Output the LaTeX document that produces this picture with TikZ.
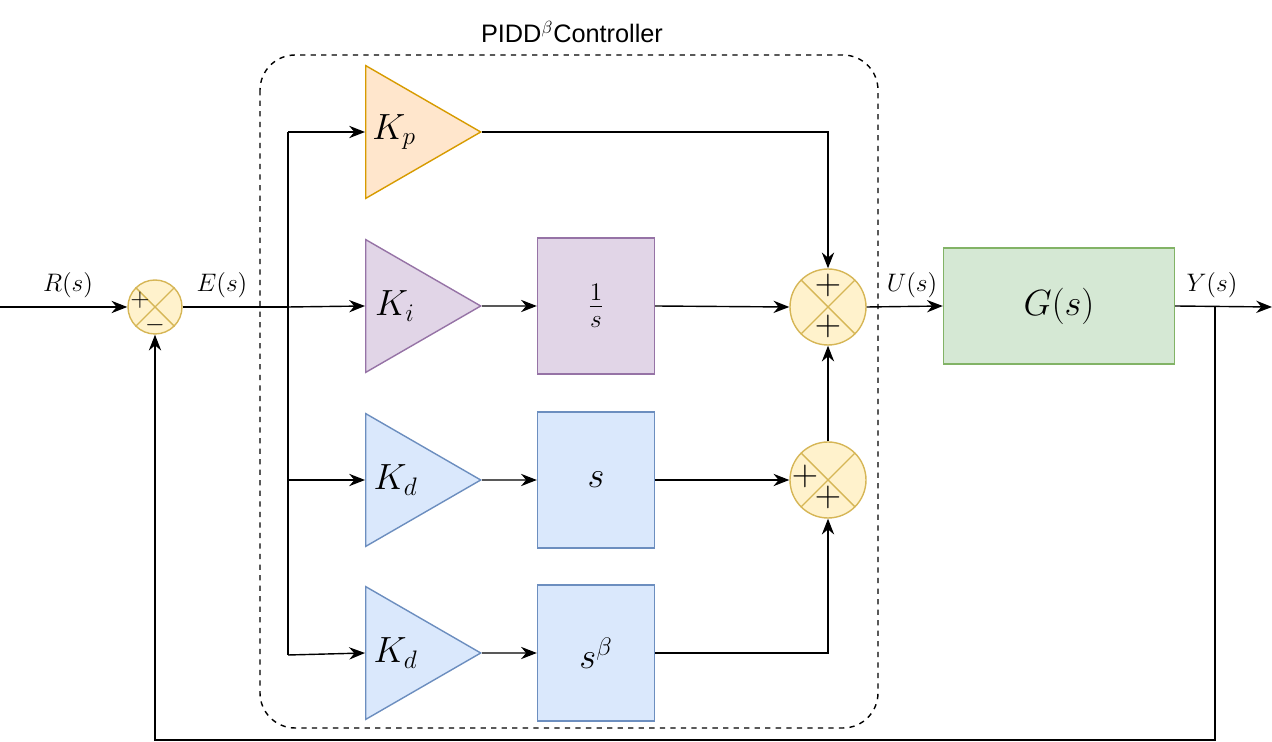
\documentclass[tikz,border=0pt]{standalone}
\usepackage{fontspec}
\newfontfamily\sansf{Liberation Sans}
\usetikzlibrary{shapes.geometric,arrows.meta}
\definecolor{orf}{HTML}{FFE6CC}\definecolor{ord}{HTML}{D79B00}
\definecolor{puf}{HTML}{E1D5E7}\definecolor{pud}{HTML}{9673A6}
\definecolor{blf}{HTML}{DAE8FC}\definecolor{bld}{HTML}{6C8EBF}
\definecolor{grf}{HTML}{D5E8D4}\definecolor{grd}{HTML}{82B366}
\definecolor{yef}{HTML}{FFF2CC}\definecolor{yed}{HTML}{D6B656}
\begin{document}
\begin{tikzpicture}[x=0.02cm,y=-0.02cm,
 >={Stealth[length=9pt,width=7pt]}, line width=0.8pt,
 tri/.style={isosceles triangle,isosceles triangle apex angle=60,minimum height=115*0.02cm,inner sep=0pt,line width=0.8pt,font=\huge,anchor=west},
 blk/.style={rectangle,minimum width=117*0.02cm,minimum height=136*0.02cm,line width=0.8pt,font=\huge},
 sumc/.style={circle,draw=yed,fill=yef,line width=0.8pt,inner sep=0pt}]
\useasboundingbox (0,0) rectangle (1272,742);
\draw[dashed,rounded corners=20] (260,55) rectangle (878,728);
\node[font=\sansf\Large] (title) at (572,32) {PIDD$^{\beta}$Controller};
% sums
\node[sumc,minimum size=54*0.02cm] (s1) at (155,307) {};
\node[sumc,minimum size=76*0.02cm] (s2) at (828,307) {};
\node[sumc,minimum size=76*0.02cm] (s3) at (828,480) {};
\foreach \s in {s1,s2,s3}{\draw[yed] (\s.north west)--(\s.south east) (\s.north east)--(\s.south west);}
\node[font=\Large] at (140,300) {$+$};\node[font=\Large] at (155,325) {$-$};
\node[font=\huge] at (828,285) {$+$};\node[font=\huge] at (828,326) {$+$};
\node[font=\huge] at (805,476) {$+$};\node[font=\huge] at (828,497) {$+$};
% triangles
\node[tri,draw=ord,fill=orf] (kp) at (365,132) {\hspace*{-6pt}$K_p$};
\node[tri,draw=pud,fill=puf] (ki) at (365,306) {\hspace*{-6pt}$K_i$};
\node[tri,draw=bld,fill=blf] (kd1) at (365,480) {\hspace*{-6pt}$K_d$};
\node[tri,draw=bld,fill=blf] (kd2) at (365,653) {\hspace*{-6pt}$K_d$};
% blocks
\node[blk,draw=pud,fill=puf] (int) at (596,306) {$\frac{1}{s}$};
\node[blk,draw=bld,fill=blf] (der) at (596,480) {$s$};
\node[blk,draw=bld,fill=blf] (fd) at (596,653) {$s^{\beta}$};
\node[rectangle,draw=grd,fill=grf,minimum width=231*0.02cm,minimum height=116*0.02cm,font=\huge,line width=0.8pt] (G) at (1059,306) {$G(s)$};
% coordinates
\coordinate (in) at (0,307);
\coordinate (b1) at (288,132);\coordinate (b2) at (288,307);
\coordinate (b3) at (288,480);\coordinate (b4) at (288,655);
\coordinate (out) at (1272,307);\coordinate (fb) at (1215,307);
% connectors
\draw[->] (in) -- (s1.west);
\draw (s1.east) -- (b2);
\draw (b1) -- (b4);
\draw[->] (b1) -- (kp.west);
\draw[->] (b2) -- (ki.west);
\draw[->] (b3) -- (kd1.west);
\draw[->] (b4) -- (kd2.west);
\draw[->] (ki.apex) -- (int.west);
\draw[->] (kd1.apex) -- (der.west);
\draw[->] (kd2.apex) -- (fd.west);
\draw[->] (kp.apex) -| (s2.north);
\draw[->] (int.east) -- (s2.west);
\draw[->] (der.east) -- (s3.west);
\draw[->] (fd.east) -| (s3.south);
\draw[->] (s3.north) -- (s2.south);
\draw[->] (s2.east) -- (G.west);
\draw[->] (G.east) -- (out);
\draw[->] (fb) -- (1215,740) -| (s1.south);
\node[font=\Large] (R) at (68,285) {$R(s)$};
\node[font=\Large] (E) at (222,285) {$E(s)$};
\node[font=\Large] (U) at (912,285) {$U(s)$};
\node[font=\Large] (Y) at (1212,285) {$Y(s)$};
\end{tikzpicture}
\end{document}
